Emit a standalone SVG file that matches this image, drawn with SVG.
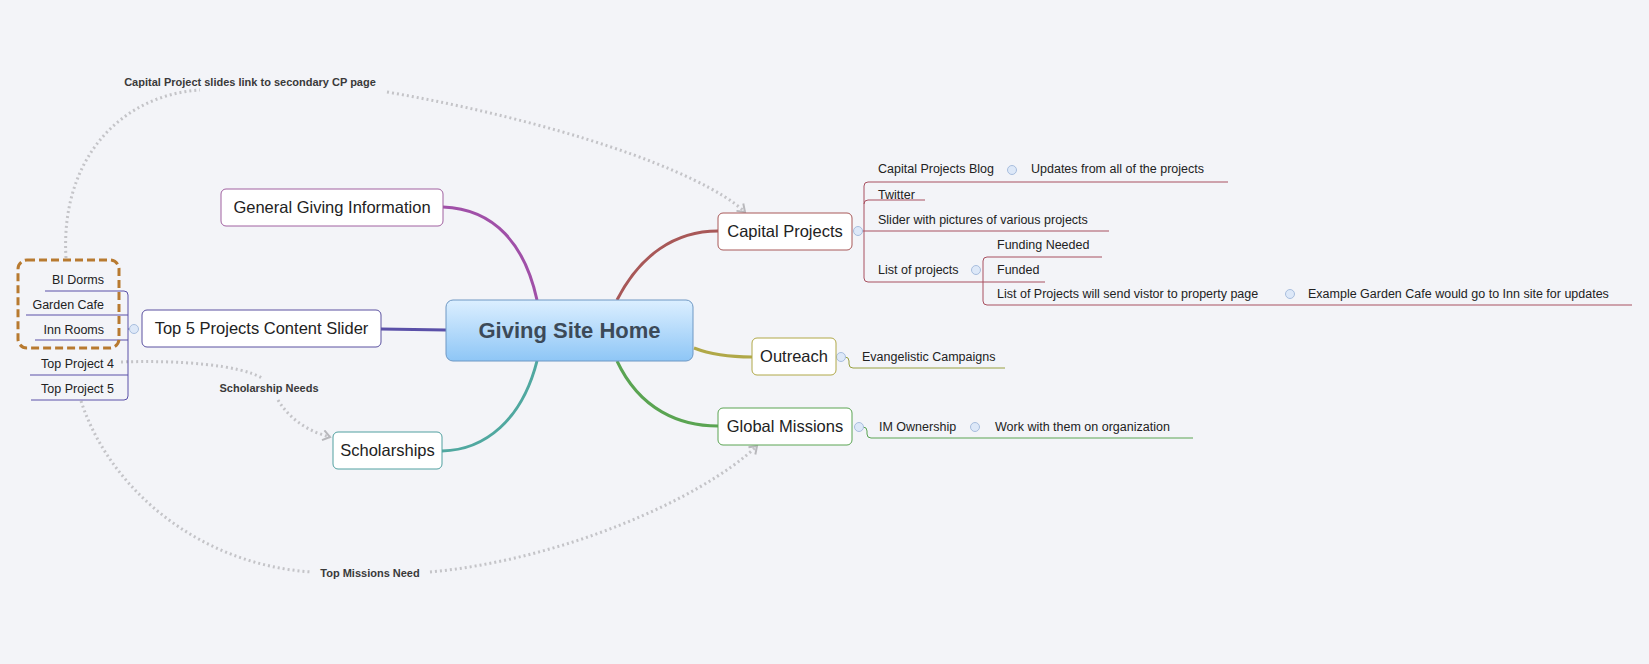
<svg xmlns="http://www.w3.org/2000/svg" width="1649" height="664" viewBox="0 0 1649 664">
<defs>
<linearGradient id="cg" x1="0" y1="0" x2="0" y2="1"><stop offset="0" stop-color="#dcefff"/><stop offset="1" stop-color="#8ec6f6"/></linearGradient>
<marker id="ar" markerWidth="12" markerHeight="12" refX="9" refY="6" orient="auto" markerUnits="userSpaceOnUse"><path d="M2 1 L9 6 L2 11" fill="none" stroke="#b8b8bc" stroke-width="2"/></marker>
<style>
text{font-family:"Liberation Sans",Arial,sans-serif;fill:#222}
.t{font-size:16.5px}
.s{font-size:12.5px}
.l{font-size:11px;font-weight:bold;fill:#3a3a3a}
.box{fill:#fff;stroke-width:1}
.rel{fill:none;stroke:#c4c4c8;stroke-width:3;stroke-dasharray:2 3}
.br{fill:none;stroke-width:1}
.col{fill:#dde8f8;stroke:#a8bede;stroke-width:1}
</style>
</defs>
<rect width="1649" height="664" fill="#f3f4f8"/>
<g id="connectors">
<path d="M537 300 C525 245 495 209 443 207" fill="none" stroke="#a050a8" stroke-width="3"/>
<path d="M617 300 C640 255 675 231 718 231" fill="none" stroke="#a85858" stroke-width="3"/>
<path d="M446 330 L381 329" fill="none" stroke="#5a50a8" stroke-width="3"/>
<path d="M537 361 C522 420 485 450 442 451" fill="none" stroke="#50a8a0" stroke-width="3"/>
<path d="M694 348 C712 355 730 357 752 357" fill="none" stroke="#b0a848" stroke-width="3"/>
<path d="M617 361 C640 410 680 426 718 426" fill="none" stroke="#5aa452" stroke-width="3"/>
<path class="rel" d="M66 258 C60 160 120 95 200 90"/>
<path class="rel" d="M387 92 C550 120 700 170 745 212" marker-end="url(#ar)"/>
<path class="rel" d="M121 362 C180 360 240 365 262 378"/>
<path class="rel" d="M278 400 C290 420 310 432 330 437" marker-end="url(#ar)"/>
<path class="rel" d="M81 401 C110 490 200 565 312 572"/>
<path class="rel" d="M430 572 C560 560 700 500 757 446" marker-end="url(#ar)"/>
<!-- capital projects brackets -->
<path class="br" stroke="#a85060" d="M858 231 H864 M1228 182 H868 Q864 182 864 186 V278 Q864 282 868 282 H976 M925 200 H868 Q864 200 864 204 M1109 231 H864"/>
<path class="br" stroke="#a85060" d="M976 282 H983 M1102 257 H987 Q983 257 983 261 V301 Q983 305 987 305 H1632 M1045 282 H983"/>
<path class="br" stroke="#98a040" d="M841 357 H845 Q849 357 849 361 V364 Q849 368 853 368 H1005"/>
<path class="br" stroke="#5aa452" d="M859 427 H863 Q867 427 867 431 V434 Q867 438 871 438 H1193"/>
<path class="br" stroke="#5a50a8" d="M134 329 H128 M45 291 H124 Q128 291 128 295 V396 Q128 400 124 400 H31 M26 315 H128 M35 340 H128 M30 375 H128"/>
</g>
<g id="collapsers">
<circle class="col" cx="858" cy="231" r="4.5"/>
<circle class="col" cx="1012" cy="170" r="4.5"/>
<circle class="col" cx="976" cy="270" r="4.5"/>
<circle class="col" cx="1290" cy="294" r="4.5"/>
<circle class="col" cx="841" cy="357" r="4.5"/>
<circle class="col" cx="859" cy="427" r="4.5"/>
<circle class="col" cx="975" cy="427" r="4.5"/>
<circle class="col" cx="134" cy="329" r="4.5"/>
</g>
<g id="center"><rect x="446" y="300" width="247" height="61" rx="7" fill="url(#cg)" stroke="#6e98c4"/><text x="569.5" y="338" text-anchor="middle" font-size="22" font-weight="bold" style="fill:#3c4a58">Giving Site Home</text></g>
<g id="general"><rect class="box" x="221" y="189" width="222" height="37" rx="5" stroke="#a060a0"/><text class="t" x="332" y="213" text-anchor="middle">General Giving Information</text></g>
<g id="capital"><rect class="box" x="718" y="213" width="134" height="37" rx="5" stroke="#a85858"/><text class="t" x="785" y="237" text-anchor="middle">Capital Projects</text></g>
<g id="top5"><rect class="box" x="142" y="310" width="239" height="37" rx="5" stroke="#5a50a0"/><text class="t" x="261.5" y="334" text-anchor="middle">Top 5 Projects Content Slider</text></g>
<g id="scholarships"><rect class="box" x="333" y="432" width="109" height="37" rx="5" stroke="#50a0a0"/><text class="t" x="387.5" y="456" text-anchor="middle">Scholarships</text></g>
<g id="outreach"><rect class="box" x="752" y="338" width="84" height="37" rx="5" stroke="#b0a848"/><text class="t" x="794" y="362" text-anchor="middle">Outreach</text></g>
<g id="global"><rect class="box" x="718" y="408" width="134" height="37" rx="5" stroke="#5aa452"/><text class="t" x="785" y="432" text-anchor="middle">Global Missions</text></g>
<g id="cp-sub">
<text class="s" x="878" y="173">Capital Projects Blog</text>
<text class="s" x="1031" y="173">Updates from all of the projects</text>
<text class="s" x="878" y="199">Twitter</text>
<text class="s" x="878" y="224">Slider with pictures of various projects</text>
<text class="s" x="878" y="274">List of projects</text>
<text class="s" x="997" y="249">Funding Needed</text>
<text class="s" x="997" y="274">Funded</text>
<text class="s" x="997" y="298">List of Projects will send vistor to property page</text>
<text class="s" x="1308" y="298">Example Garden Cafe would go to Inn site for updates</text>
</g>
<g id="or-sub"><text class="s" x="862" y="361">Evangelistic Campaigns</text></g>
<g id="gm-sub"><text class="s" x="879" y="431">IM Ownership</text><text class="s" x="995" y="431">Work with them on organization</text></g>
<g id="top5-sub">
<text class="s" x="104" y="284" text-anchor="end">BI Dorms</text>
<text class="s" x="104" y="309" text-anchor="end">Garden Cafe</text>
<text class="s" x="104" y="334" text-anchor="end">Inn Rooms</text>
<text class="s" x="114" y="368" text-anchor="end">Top Project 4</text>
<text class="s" x="114" y="393" text-anchor="end">Top Project 5</text>
</g>
<g id="boundary"><rect x="18" y="260" width="101" height="88" rx="9" fill="none" stroke="#b87a30" stroke-width="3" stroke-dasharray="8 4"/></g>
<g id="labels">
<text class="l" x="250" y="86" text-anchor="middle">Capital Project slides link to secondary CP page</text>
<text class="l" x="269" y="392" text-anchor="middle">Scholarship Needs</text>
<text class="l" x="370" y="577" text-anchor="middle">Top Missions Need</text>
</g>
</svg>
